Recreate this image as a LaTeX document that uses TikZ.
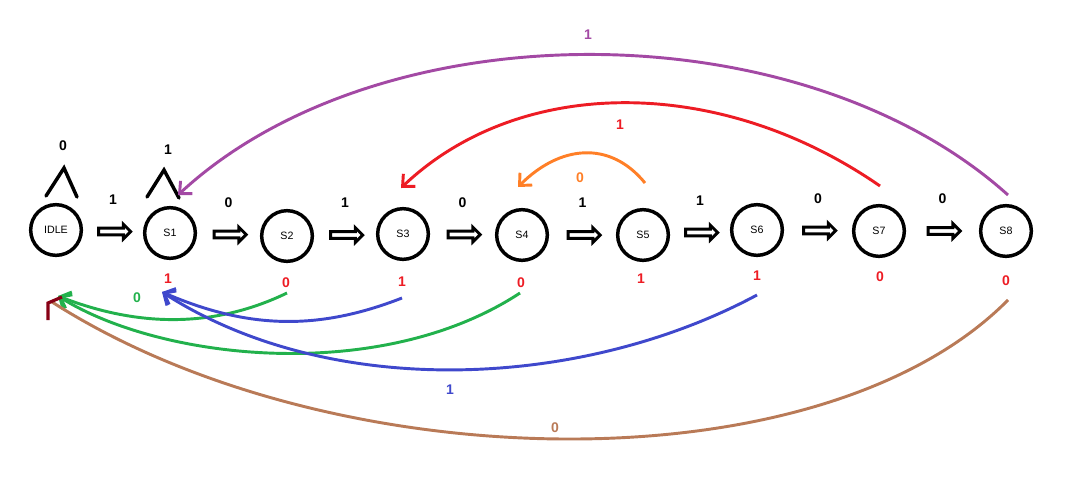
\documentclass[tikz,border=0pt]{standalone}
\usepackage{fontspec}
\setmainfont{Liberation Sans}
\usetikzlibrary{shapes.arrows,arrows.meta}
\definecolor{cpur}{RGB}{163,73,164}
\definecolor{cred}{RGB}{237,28,36}
\definecolor{cora}{RGB}{255,127,39}
\definecolor{cgrn}{RGB}{34,177,76}
\definecolor{cblu}{RGB}{63,72,204}
\definecolor{cbrn}{RGB}{185,122,87}
\definecolor{cdrd}{RGB}{136,0,21}
\begin{document}
\begin{tikzpicture}[x=0.75pt,y=-0.75pt,
  st/.style={circle,draw,line width=2.6pt,minimum size=38pt,inner sep=0pt,font=\fontsize{8}{9}\selectfont},
  blk/.style={single arrow,draw,line width=2.2pt,fill=white,minimum height=24pt,minimum width=11pt,single arrow head extend=2.5pt,inner sep=1pt},
  lb/.style={font=\fontsize{10.5}{12}\bfseries\selectfont},
  outlb/.style={lb,text=cred},
  tr/.style={line width=2.2pt,-{Straight Barb[length=7pt,width=13pt]}},
  loop/.style={line width=2.6pt,line cap=round}]
\useasboundingbox (0,0) rectangle (1086,490);
\node[st] (idle) at (56,230) {IDLE};
\node[st] (s1) at (170,233) {S1};
\node[st] (s2) at (287,236) {S2};
\node[st] (s3) at (403,234) {S3};
\node[st] (s4) at (522,235) {S4};
\node[st] (s5) at (643,235) {S5};
\node[st] (s6) at (757,230) {S6};
\node[st] (s7) at (879,231) {S7};
\node[st] (s8) at (1006,231) {S8};
\foreach \a/\b/\l in {idle/s1/1,s1/s2/0,s2/s3/1,s3/s4/0,s4/s5/1,s5/s6/1,s6/s7/0,s7/s8/0}{
  \path (\a) -- node[blk,pos=0.5](ar-\a){} node[lb,pos=0.5,yshift=24pt]{\l} (\b);}
% self loops
\coordinate (il1) at (46,196); \coordinate (il2) at (64,168); \coordinate (il3) at (77,197);
\draw[loop] (il1) -- (il2) -- (il3);
\node[lb] at (63,146) {0};
\coordinate (sl1) at (147,197); \coordinate (sl2) at (164,170); \coordinate (sl3) at (179,198);
\draw[loop] (sl1) -- (sl2) -- (sl3);
\node[lb] at (168,150) {1};
% outputs
\node[outlb] at (168,279) {1};
\node[outlb] at (286,283) {0};
\node[outlb] at (402,282) {1};
\node[outlb] at (521,283) {0};
\node[outlb] at (641,279) {1};
\node[outlb] at (757,276) {1};
\node[outlb] at (880,277) {0};
\node[outlb] at (1006,281) {0};
% upper arcs
\coordinate (p0) at (1008,195); \coordinate (p1) at (178,195);
\draw[tr,cpur] (p0) .. controls (800,8) and (380,8) .. (p1);
\node[lb,text=cpur] at (588,35) {1};
\coordinate (r0) at (880,186); \coordinate (r1) at (401,188);
\draw[tr,cred] (r0) .. controls (720,75) and (520,75) .. (r1);
\node[lb,text=cred] at (620,125) {1};
\coordinate (o0) at (645,183); \coordinate (o1) at (518,187);
\draw[tr,cora] (o0) .. controls (610,140) and (560,145) .. (o1);
\node[lb,text=cora] at (580,178) {0};
% lower arcs
\coordinate (id) at (58,296); \coordinate (s1in) at (162,292);
\coordinate (g0) at (287,293); \coordinate (g1) at (520,293);
\draw[tr,cgrn] (g0) .. controls (200,335) and (120,320) .. (id);
\draw[tr,cgrn] (g1) .. controls (380,385) and (160,360) .. (id);
\node[lb,text=cgrn] at (137,298) {0};
\coordinate (b0) at (402,298); \coordinate (b1) at (757,295);
\draw[tr,cblu] (b0) .. controls (320,330) and (250,330) .. (s1in);
\draw[tr,cblu] (b1) .. controls (580,390) and (330,400) .. (s1in);
\node[lb,text=cblu] at (450,390) {1};
\coordinate (w0) at (1008,300);
\draw[line width=2.2pt,cbrn] (w0) .. controls (820,490) and (330,480) .. (52,302);
\node[lb,text=cbrn] at (555,428) {0};
\coordinate (dr1) at (48,320); \coordinate (dr2) at (48,303); \coordinate (dr3) at (62,297);
\draw[line width=2.4pt,cdrd] (dr1) -- (dr2) -- (dr3);
\end{tikzpicture}
\end{document}
